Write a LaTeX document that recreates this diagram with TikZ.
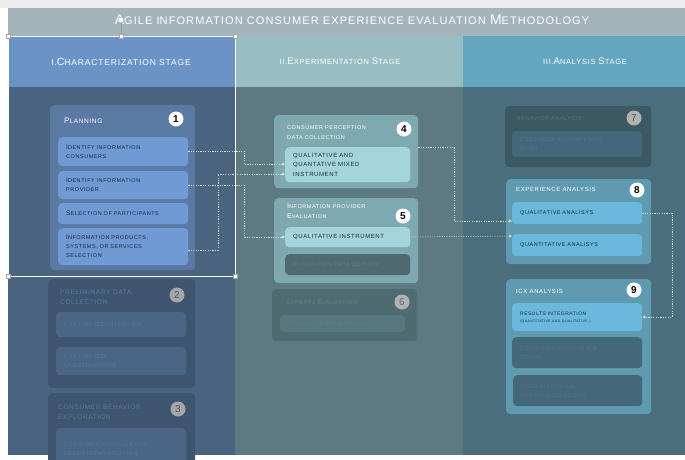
\documentclass[tikz,border=0pt]{standalone}
\usepackage{fontspec}
\setmainfont{Liberation Sans}
\newfontfamily\cp[LetterSpace=10]{Liberation Sans}
\usetikzlibrary{arrows.meta}
\definecolor{titlebg}{HTML}{A3B4BB}
\definecolor{hA}{HTML}{6B93C6}\definecolor{bA}{HTML}{4A6480}
\definecolor{hB}{HTML}{98BEC4}\definecolor{bB}{HTML}{5D7A82}
\definecolor{hC}{HTML}{64A6BF}\definecolor{bC}{HTML}{4A6E7C}
\definecolor{oA}{HTML}{5A7AA3}\definecolor{iA}{HTML}{6F9AD4}
\definecolor{dA}{HTML}{3E5570}\definecolor{diA}{HTML}{4A6585}\definecolor{dtA}{HTML}{5C7898}
\definecolor{oB}{HTML}{7FA9B0}\definecolor{iB}{HTML}{A4D4DC}
\definecolor{dB}{HTML}{4F6B72}\definecolor{diB}{HTML}{58767D}\definecolor{dtB}{HTML}{647F86}
\definecolor{dB2}{HTML}{4F6A70}
\definecolor{oC}{HTML}{5F9AB0}\definecolor{iC}{HTML}{6AB8DC}
\definecolor{dC}{HTML}{3C5863}\definecolor{diC}{HTML}{44677A}\definecolor{dtC}{HTML}{557685}
\definecolor{navy}{HTML}{1A2A40}
\definecolor{lnk}{HTML}{DADADA}
\tikzset{
 bxs/.style={rounded corners=4pt,inner sep=0pt,font=\cp\fontsize{5.5}{9}\selectfont},
 hd/.style={anchor=west,inner sep=0pt,font=\cp\fontsize{6.5}{10}\selectfont,align=left},
 badge/.style={circle,inner sep=0pt,minimum size=15pt,font=\bfseries\fontsize{10}{10}\selectfont},
 lk/.style={draw=lnk,densely dashed,line width=0.5pt,dash pattern=on 1.2pt off 1.2pt,-{Triangle[length=3pt,width=3pt]}},
 lkn/.style={draw=lnk,line width=0.5pt,dash pattern=on 1.2pt off 1.2pt},
 colh/.style={font=\cp\fontsize{8.5}{10}\selectfont,text=white}
}
% \bx{name}{x1}{y1}{x2}{y2}{style}{text}
\newcommand\bx[7]{\node[bxs,#6,anchor=north west,minimum width={(#4-#2)*1pt},minimum height={(#5-#3)*1pt},text width={(#4-#2-16)*1pt},align=left] (#1) at (#2,#3) {#7};}
\begin{document}
\begin{tikzpicture}[x=1pt,y=-1pt]
\useasboundingbox (0,0) rectangle (685,459);
\fill[white] (0,0) rectangle (685,459);
\fill[gray!15] (0,0) rectangle (685,8);
% title and columns
\fill[titlebg] (8,8) rectangle (685,36);
\node[font=\cp\fontsize{11}{12}\selectfont,text=white] (title) at (352,20) {{\fontsize{14}{14}\selectfont A}GILE I{\fontsize{14}{14}\selectfont\phantom{}}NFORMATION CONSUMER EXPERIENCE EVALUATION {\fontsize{14}{14}\selectfont M}ETHODOLOGY};
\fill[hA] (8,36) rectangle (235,87); \fill[bA] (8,87) rectangle (235,455);
\fill[hB] (235,36) rectangle (463,87); \fill[bB] (235,87) rectangle (463,455);
\fill[hC] (463,36) rectangle (685,87); \fill[bC] (463,87) rectangle (685,455);
\node[colh] (c1) at (121,62) {I.{\fontsize{10.5}{10}\selectfont C}HARACTERIZATION STAGE};
\node[colh,font=\cp\fontsize{7.5}{10}\selectfont] (c2) at (340,61) {II.{\fontsize{9.5}{10}\selectfont E}XPERIMENTATION {\fontsize{9.5}{10}\selectfont S}TAGE};
\node[colh,font=\cp\fontsize{7.5}{10}\selectfont] (c3) at (585,61) {III.{\fontsize{9.5}{10}\selectfont A}NALYSIS {\fontsize{9.5}{10}\selectfont S}TAGE};
% ---- column 1
\bx{p}{50}{105}{195}{270}{fill=oA}{}
\node[hd,text=white] (ph) at (64,121) {{\fontsize{8}{10}\selectfont P}LANNING};
\node[badge,fill=white] (b1) at (176,119) {1};
\bx{p1}{58}{137}{188}{166}{fill=iA,text=navy}{{\fontsize{6.5}{9}\selectfont I}DENTIFY INFORMATION\\CONSUMERS}
\bx{p2}{58}{171}{188}{199}{fill=iA,text=navy}{{\fontsize{6.5}{9}\selectfont I}DENTIFY INFORMATION\\PROVIDER}
\bx{p3}{58}{203}{188}{224}{fill=iA,text=navy}{{\fontsize{6.5}{9}\selectfont S}ELECTION OF PARTICIPANTS}
\bx{p4}{58}{228}{188}{265}{fill=iA,text=navy}{{\fontsize{6.5}{9}\selectfont I}NFORMATION PRODUCTS,\\SYSTEMS, OR SERVICES\\SELECTION}
\bx{q}{48}{279}{195}{388}{fill=dA}{}
\node[hd,text=dtA] (qh) at (60,297) {PRELIMINARY DATA\\COLLECTION};
\node[badge,fill=gray!70,text=dA,font=\fontsize{10}{10}\selectfont] (b2) at (177,295) {2};
\bx{q1}{56}{312}{186}{337}{fill=diA,text=dtA}{CUSTOMIZED INTERVIEW}
\bx{q2}{56}{347}{186}{375}{fill=diA,text=dtA}{CUSTOMIZED\\QUESTIONNAIRE}
\bx{r}{48}{393}{195}{475}{fill=dA}{}
\node[hd,text=dtA] (rh) at (58,412) {CONSUMER BEHAVIOR\\EXPLORATION};
\node[badge,fill=gray!70,text=dA,font=\fontsize{10}{10}\selectfont] (b3) at (178,409) {3};
\bx{r1}{56}{428}{186}{470}{fill=diA,text=dtA}{CONSUMER PROFILES AND\\NEEDS IDENTIFICATION\\}
% ---- column 2
\bx{s}{274}{115}{418}{188}{fill=oB}{}
\node[hd,text=white,font=\cp\fontsize{5.5}{10}\selectfont] (sh) at (287,133) {CONSUMER PERCEPTION\\DATA COLLECTION};
\node[badge,fill=white] (b4) at (404,129) {4};
\bx{s1}{285}{147}{410}{182}{fill=iB,text=navy,font=\cp\fontsize{6}{9.5}\selectfont}{QUALITATIVE AND\\QUANTATIVE MIXED\\INSTRUMENT}
\bx{t}{274}{198}{418}{283}{fill=oB}{}
\node[hd,text=white,font=\cp\fontsize{5.5}{10}\selectfont] (th) at (287,211) {{\fontsize{7}{10}\selectfont I}NFORMATION PROVIDER\\{\fontsize{7}{10}\selectfont E}VALUATION};
\node[badge,fill=white] (b5) at (403,216) {5};
\bx{t1}{285}{227}{410}{247}{fill=iB,text=navy,font=\cp\fontsize{6}{9}\selectfont}{QUALITATIVE INSTRUMENT}
\bx{t2}{285}{254}{410}{275}{fill=dB2,text=dtB}{{\fontsize{6.5}{9}\selectfont E}VALUATION {\fontsize{6.5}{9}\selectfont D}ATA {\fontsize{6.5}{9}\selectfont Q}UALITY}
\bx{u}{272}{289}{417}{341}{fill=dB}{}
\node[hd,text=dtB,font=\cp\fontsize{5.5}{10}\selectfont] (uh) at (286,302) {{\fontsize{7}{10}\selectfont E}XPERTS {\fontsize{7}{10}\selectfont E}VALUATION};
\node[badge,fill=gray!60,text=dB,font=\fontsize{10}{10}\selectfont] (b6) at (402,302) {6};
\bx{u1}{280}{315}{405}{332}{fill=diB,text=dtB}{{\fontsize{6.5}{9}\selectfont C}OGNITIVE {\fontsize{6.5}{9}\selectfont W}ALKTHROUGH}
% ---- column 3
\bx{v}{505}{106}{651}{167}{fill=dC}{}
\node[hd,text=dtC,font=\cp\fontsize{5.5}{10}\selectfont] (vh) at (517,119) {BEHAVIOR ANALYSIS};
\node[badge,fill=gray!60,text=dC,font=\fontsize{10}{10}\selectfont] (b7) at (634,118) {7};
\bx{v1}{512}{131}{642}{157}{fill=diC,text=dtC,align=center}{CUSTOMER JOURNEY MAP\\(CJM)}
\bx{w}{506}{179}{651}{264}{fill=oC}{}
\node[hd,text=white,font=\cp\fontsize{6}{10}\selectfont] (wh) at (516,189) {EXPERIENCE ANALYSIS};
\node[badge,fill=white] (b8) at (637,190) {8};
\bx{w1}{512}{202}{642}{224}{fill=iC,text=navy}{QUALITATIVE ANALISYS}
\bx{w2}{512}{234}{642}{256}{fill=iC,text=navy}{QUANTITATIVE ANALISYS}
\bx{x}{506}{279}{651}{414}{fill=oC}{}
\node[hd,text=white,font=\cp\fontsize{6}{10}\selectfont] (xh) at (516,291) {ICX ANALYSIS};
\node[badge,fill=white] (b9) at (634,290) {9};
\bx{x1}{512}{303}{642}{331}{fill=iC,text=navy,font=\cp\fontsize{5}{7}\selectfont}{RESULTS INTEGRATION\\{\fontsize{3.5}{6}\selectfont(QUANTITATIVE AND QUALITATIVE )}}
\bx{x2}{512}{337}{642}{368}{fill=diC,text=dtC}{CONSUMER PROFILE ICX\\SCORE}
\bx{x3}{513}{375}{642}{406}{fill=diC,text=dtC}{ORGANIZATIONAL\\OVERALL ICX SCORE}
% ---- connectors
\draw[lk] (p1.east |- 0,151) -| (244,164) -- (s1.west |- 0,164);
\draw[lk] (p2.east |- 0,185) -| (244,237) -- (t1.west |- 0,237);
\draw[lk] (p4.east |- 0,250) -| (218,174) -- (s1.west |- 0,174);
\draw[lk] (s.east |- 0,147) -| (454,221) -- (w1.west |- 0,221);
\draw[lk] (t1.east |- 0,237) -- (w2.west |- 0,236);
\draw[lk] (w1.east |- 0,213) -| (672,317) -- (x1.east |- 0,317);
% selection frame artifact
\draw[white,line width=0.6pt] (8,36) rectangle (235,276);
\draw[gray!80,line width=0.4pt] (121,36) -- (121,22);
\node[circle,draw=gray!80,fill=white,inner sep=0pt,minimum size=6pt] (rot) at (121,20) {};
\foreach \px/\py in {8/36,121/36,235/36,8/276,235/276}
  \node[draw=gray!70,fill=white,inner sep=0pt,minimum size=4.5pt] at (\px,\py) {};
\end{tikzpicture}
\end{document}
